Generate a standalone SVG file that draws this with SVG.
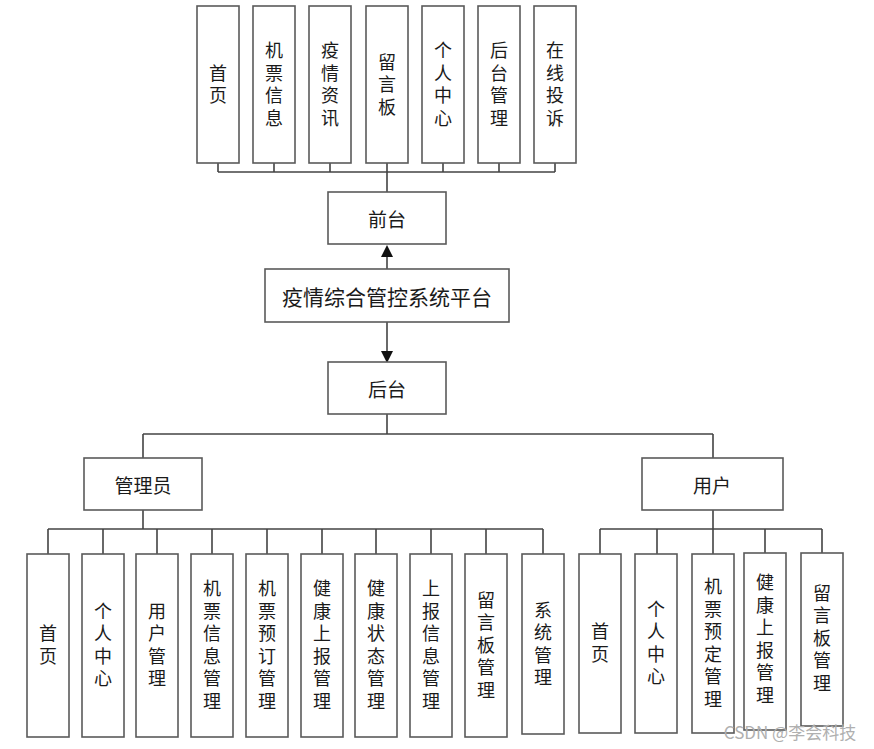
<svg xmlns="http://www.w3.org/2000/svg" width="874" height="749" viewBox="0 0 874 749">
<defs>
<style>
.b{fill:#fff;stroke:#5a5a5a;stroke-width:1.6}
.t{font-family:"Noto Sans CJK SC","Noto Sans",sans-serif;font-size:18px;fill:#1a1a1a;text-anchor:middle;dominant-baseline:central}
.v{writing-mode:vertical-rl;letter-spacing:4.5px}
.h{font-size:19px}
.c{fill:none;stroke:#444;stroke-width:1.6}
</style>
<marker id="ar" markerWidth="12" markerHeight="12" refX="10" refY="6" orient="auto" markerUnits="userSpaceOnUse">
<path d="M0,0 L12,6 L0,12 z" fill="#111"/>
</marker>
</defs>
<rect width="874" height="749" fill="#fff"/>
<g id="connectors">
<path class="c" d="M218,163V172M274,163V172M330,163V172M387,163V172M443,163V172M499,163V172M555,163V172M218,172H555M387,172V192"/>
<path class="c" d="M387,269V247" marker-end="url(#ar)"/>
<path class="c" d="M387,322V361" marker-end="url(#ar)"/>
<path class="c" d="M387,414V434M143,434H713M143,434V458M713,434V458"/>
<path class="c" d="M143,510V529M48,529H543M48,529V554M103,529V554M157,529V554M212,529V554M267,529V554M322,529V554M376,529V554M431,529V554M486,529V554M543,529V554"/>
<path class="c" d="M713,510V529M600,529H822M600,529V554M657,529V554M713,529V554M765,529V553M822,529V553"/>
</g>
<g id="top1"><rect class="b" x="197" y="6" width="42" height="157"/><text class="t v" x="218" y="86.5">首页</text></g>
<g id="top2"><rect class="b" x="253" y="6" width="42" height="157"/><text class="t v" x="274" y="86.5">机票信息</text></g>
<g id="top3"><rect class="b" x="309" y="6" width="42" height="157"/><text class="t v" x="330" y="86.5">疫情资讯</text></g>
<g id="top4"><rect class="b" x="366" y="6" width="42" height="157"/><text class="t v" x="387" y="86.5">留言板</text></g>
<g id="top5"><rect class="b" x="422" y="6" width="42" height="157"/><text class="t v" x="443" y="86.5">个人中心</text></g>
<g id="top6"><rect class="b" x="478" y="6" width="42" height="157"/><text class="t v" x="499" y="86.5">后台管理</text></g>
<g id="top7"><rect class="b" x="534" y="6" width="42" height="157"/><text class="t v" x="555" y="86.5">在线投诉</text></g>
<g id="qiantai"><rect class="b" x="328" y="192" width="118" height="52"/><text class="t h" x="387" y="218">前台</text></g>
<g id="platform"><rect class="b" x="265" y="269" width="244" height="53"/><text class="t" style="font-size:21px" x="387" y="295.5">疫情综合管控系统平台</text></g>
<g id="houtai"><rect class="b" x="328" y="362" width="118" height="52"/><text class="t h" x="387" y="388">后台</text></g>
<g id="admin"><rect class="b" x="84" y="458" width="118" height="52"/><text class="t h" x="143" y="484">管理员</text></g>
<g id="user"><rect class="b" x="642" y="458" width="141" height="52"/><text class="t h" x="712" y="484">用户</text></g>
<g id="a1"><rect class="b" x="27" y="554" width="42" height="183"/><text class="t v" x="48" y="647">首页</text></g>
<g id="a2"><rect class="b" x="82" y="554" width="42" height="183"/><text class="t v" x="103" y="647">个人中心</text></g>
<g id="a3"><rect class="b" x="136" y="554" width="42" height="183"/><text class="t v" x="157" y="647">用户管理</text></g>
<g id="a4"><rect class="b" x="191" y="554" width="42" height="183"/><text class="t v" x="212" y="647">机票信息管理</text></g>
<g id="a5"><rect class="b" x="246" y="554" width="42" height="183"/><text class="t v" x="267" y="647">机票预订管理</text></g>
<g id="a6"><rect class="b" x="301" y="554" width="42" height="183"/><text class="t v" x="322" y="647">健康上报管理</text></g>
<g id="a7"><rect class="b" x="355" y="554" width="42" height="183"/><text class="t v" x="376" y="647">健康状态管理</text></g>
<g id="a8"><rect class="b" x="410" y="554" width="42" height="183"/><text class="t v" x="431" y="647">上报信息管理</text></g>
<g id="a9"><rect class="b" x="465" y="554" width="42" height="183"/><text class="t v" x="486" y="647">留言板管理</text></g>
<g id="a10"><rect class="b" x="522" y="554" width="42" height="180"/><text class="t v" x="543" y="646">系统管理</text></g>
<g id="u1"><rect class="b" x="579" y="554" width="42" height="179"/><text class="t v" x="600" y="645">首页</text></g>
<g id="u2"><rect class="b" x="635" y="554" width="42" height="179"/><text class="t v" x="656" y="645">个人中心</text></g>
<g id="u3"><rect class="b" x="692" y="554" width="42" height="179"/><text class="t v" x="713" y="645">机票预定管理</text></g>
<g id="u4"><rect class="b" x="744" y="553" width="42" height="177"/><text class="t v" x="765" y="641">健康上报管理</text></g>
<g id="u5"><rect class="b" x="801" y="553" width="42" height="173"/><text class="t v" x="822" y="640">留言板管理</text></g>
<text x="790" y="731" style="font-family:'Noto Sans CJK SC','Noto Sans',sans-serif;font-size:17px;fill:#b0b0b0;text-anchor:middle;dominant-baseline:central">CSDN @李会科技</text>
</svg>
